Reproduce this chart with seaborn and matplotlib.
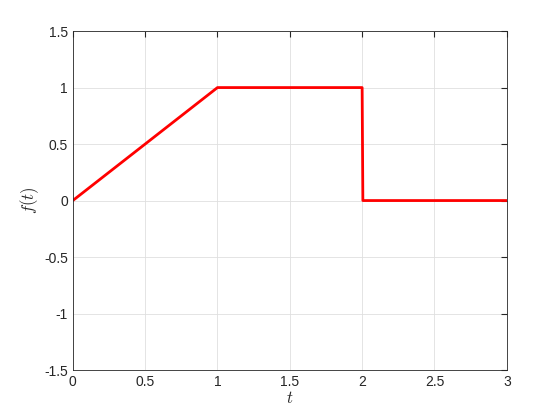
import matplotlib
matplotlib.use("Agg")
import matplotlib.pyplot as plt
import seaborn as sns
import pandas as pd

t = [0, 1, 2, 2.005, 3]
f = [0, 1, 1, 0, 0]
xticks = [0, 0.5, 1, 1.5, 2, 2.5, 3]
yticks = [-1.5, -1, -0.5, 0, 0.5, 1, 1.5]

sns.set_style("white")
plt.rcParams['font.family'] = ['Liberation Sans', 'DejaVu Sans']
plt.rcParams['mathtext.fontset'] = 'cm'

fig = plt.figure(figsize=(5.6, 4.2), dpi=100)
ax = fig.add_axes([0.130, 0.119, 0.775, 0.807])
df = pd.DataFrame({"t": t, "f": f})
sns.lineplot(data=df, x="t", y="f", ax=ax, color="red", linewidth=2, sort=False)
ax.set_xlim(0, 3)
ax.set_ylim(-1.5, 1.5)
ax.set_xticks(xticks)
ax.set_xticklabels([f"{v:g}" for v in xticks])
ax.set_yticks(yticks)
ax.set_yticklabels([f"{v:g}" for v in yticks])
ax.grid(True, color="#dfdfdf", linewidth=0.6)
for s in ax.spines.values():
    s.set_color("#262626"); s.set_linewidth(0.6)
ax.tick_params(direction="in", length=4, labelsize=10, colors="#262626", top=True, right=True)
ax.set_xlabel("$t$", fontsize=12, labelpad=1)
ax.set_ylabel("$f(t)$", fontsize=12, labelpad=2)
fig.savefig("out.png", dpi=100, facecolor="white")
